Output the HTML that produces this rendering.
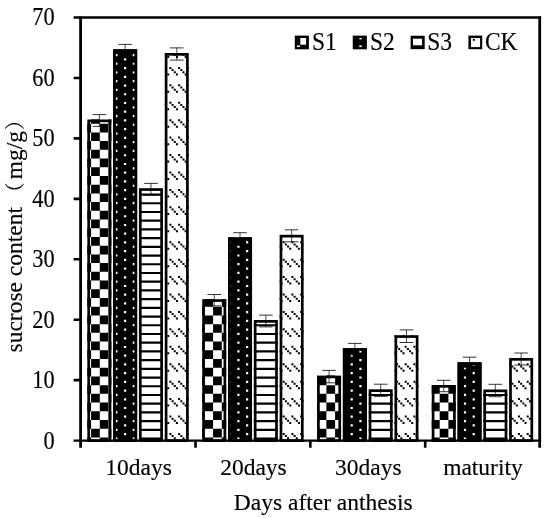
<!DOCTYPE html><html><head><meta charset="utf-8"><title>sucrose content</title><style>
html,body{margin:0;padding:0;background:#fff;}
body{width:550px;height:518px;overflow:hidden;}
svg{display:block;}
text{font-family:"Liberation Serif","Noto Serif CJK SC",serif;fill:#000;stroke:#000;stroke-width:0.15px;}
</style></head><body>
<svg width="550" height="518" viewBox="0 0 550 518">
<rect x="0" y="0" width="550" height="518" fill="#fff"/>
<rect x="87.35" y="119.50" width="24.00" height="321.10" fill="#fff"/>
<path d="M87.35 123.69H91.09V132.40H87.35ZM87.35 141.12H91.09V149.83H87.35ZM87.35 158.55H91.09V167.26H87.35ZM87.35 175.98H91.09V184.69H87.35ZM87.35 193.41H91.09V202.12H87.35ZM87.35 210.84H91.09V219.55H87.35ZM87.35 228.27H91.09V236.98H87.35ZM87.35 245.69H91.09V254.41H87.35ZM87.35 263.12H91.09V271.84H87.35ZM87.35 280.56H91.09V289.27H87.35ZM87.35 297.99H91.09V306.70H87.35ZM87.35 315.42H91.09V324.13H87.35ZM87.35 332.85H91.09V341.56H87.35ZM87.35 350.28H91.09V358.99H87.35ZM87.35 367.70H91.09V376.42H87.35ZM87.35 385.13H91.09V393.85H87.35ZM87.35 402.56H91.09V411.28H87.35ZM87.35 420.00H91.09V428.71H87.35ZM87.35 437.43H91.09V440.60H87.35ZM91.09 119.50H99.80V123.69H91.09ZM91.09 132.40H99.80V141.12H91.09ZM91.09 149.83H99.80V158.55H91.09ZM91.09 167.26H99.80V175.98H91.09ZM91.09 184.69H99.80V193.41H91.09ZM91.09 202.12H99.80V210.84H91.09ZM91.09 219.55H99.80V228.27H91.09ZM91.09 236.98H99.80V245.69H91.09ZM91.09 254.41H99.80V263.12H91.09ZM91.09 271.84H99.80V280.56H91.09ZM91.09 289.27H99.80V297.99H91.09ZM91.09 306.70H99.80V315.42H91.09ZM91.09 324.13H99.80V332.85H91.09ZM91.09 341.56H99.80V350.28H91.09ZM91.09 358.99H99.80V367.70H91.09ZM91.09 376.42H99.80V385.13H91.09ZM91.09 393.85H99.80V402.56H91.09ZM91.09 411.28H99.80V420.00H91.09ZM91.09 428.71H99.80V437.43H91.09ZM99.80 123.69H108.52V132.40H99.80ZM99.80 141.12H108.52V149.83H99.80ZM99.80 158.55H108.52V167.26H99.80ZM99.80 175.98H108.52V184.69H99.80ZM99.80 193.41H108.52V202.12H99.80ZM99.80 210.84H108.52V219.55H99.80ZM99.80 228.27H108.52V236.98H99.80ZM99.80 245.69H108.52V254.41H99.80ZM99.80 263.12H108.52V271.84H99.80ZM99.80 280.56H108.52V289.27H99.80ZM99.80 297.99H108.52V306.70H99.80ZM99.80 315.42H108.52V324.13H99.80ZM99.80 332.85H108.52V341.56H99.80ZM99.80 350.28H108.52V358.99H99.80ZM99.80 367.70H108.52V376.42H99.80ZM99.80 385.13H108.52V393.85H99.80ZM99.80 402.56H108.52V411.28H99.80ZM99.80 420.00H108.52V428.71H99.80ZM99.80 437.43H108.52V440.60H99.80ZM108.52 119.50H111.35V123.69H108.52ZM108.52 132.40H111.35V141.12H108.52ZM108.52 149.83H111.35V158.55H108.52ZM108.52 167.26H111.35V175.98H108.52ZM108.52 184.69H111.35V193.41H108.52ZM108.52 202.12H111.35V210.84H108.52ZM108.52 219.55H111.35V228.27H108.52ZM108.52 236.98H111.35V245.69H108.52ZM108.52 254.41H111.35V263.12H108.52ZM108.52 271.84H111.35V280.56H108.52ZM108.52 289.27H111.35V297.99H108.52ZM108.52 306.70H111.35V315.42H108.52ZM108.52 324.13H111.35V332.85H108.52ZM108.52 341.56H111.35V350.28H108.52ZM108.52 358.99H111.35V367.70H108.52ZM108.52 376.42H111.35V385.13H108.52ZM108.52 393.85H111.35V402.56H108.52ZM108.52 411.28H111.35V420.00H108.52ZM108.52 428.71H111.35V437.43H108.52Z" fill="#000"/>
<rect x="88.70" y="120.85" width="21.30" height="319.75" fill="none" stroke="#000" stroke-width="2.7"/>
<rect x="113.15" y="49.30" width="24.00" height="391.30" fill="#000"/>
<path d="M115.30 53.94H117.50V56.14H115.30ZM115.30 62.66H117.50V64.86H115.30ZM115.30 71.38H117.50V73.57H115.30ZM115.30 80.09H117.50V82.29H115.30ZM115.30 88.80H117.50V91.00H115.30ZM115.30 97.52H117.50V99.72H115.30ZM115.30 106.23H117.50V108.43H115.30ZM115.30 114.95H117.50V117.15H115.30ZM115.30 123.66H117.50V125.86H115.30ZM115.30 132.38H117.50V134.58H115.30ZM115.30 141.09H117.50V143.29H115.30ZM115.30 149.81H117.50V152.01H115.30ZM115.30 158.53H117.50V160.72H115.30ZM115.30 167.24H117.50V169.44H115.30ZM115.30 175.95H117.50V178.15H115.30ZM115.30 184.67H117.50V186.87H115.30ZM115.30 193.38H117.50V195.58H115.30ZM115.30 202.10H117.50V204.30H115.30ZM115.30 210.81H117.50V213.01H115.30ZM115.30 219.53H117.50V221.73H115.30ZM115.30 228.25H117.50V230.44H115.30ZM115.30 236.96H117.50V239.16H115.30ZM115.30 245.67H117.50V247.87H115.30ZM115.30 254.39H117.50V256.59H115.30ZM115.30 263.10H117.50V265.31H115.30ZM115.30 271.82H117.50V274.02H115.30ZM115.30 280.53H117.50V282.74H115.30ZM115.30 289.25H117.50V291.45H115.30ZM115.30 297.96H117.50V300.17H115.30ZM115.30 306.68H117.50V308.88H115.30ZM115.30 315.39H117.50V317.60H115.30ZM115.30 324.11H117.50V326.31H115.30ZM115.30 332.82H117.50V335.02H115.30ZM115.30 341.54H117.50V343.74H115.30ZM115.30 350.25H117.50V352.46H115.30ZM115.30 358.97H117.50V361.17H115.30ZM115.30 367.68H117.50V369.88H115.30ZM115.30 376.40H117.50V378.60H115.30ZM115.30 385.11H117.50V387.31H115.30ZM115.30 393.83H117.50V396.03H115.30ZM115.30 402.54H117.50V404.75H115.30ZM115.30 411.26H117.50V413.46H115.30ZM115.30 419.97H117.50V422.18H115.30ZM115.30 428.69H117.50V430.89H115.30ZM115.30 437.40H117.50V439.61H115.30ZM132.73 53.94H134.93V56.14H132.73ZM132.73 62.66H134.93V64.86H132.73ZM132.73 71.38H134.93V73.57H132.73ZM132.73 80.09H134.93V82.29H132.73ZM132.73 88.80H134.93V91.00H132.73ZM132.73 97.52H134.93V99.72H132.73ZM132.73 106.23H134.93V108.43H132.73ZM132.73 114.95H134.93V117.15H132.73ZM132.73 123.66H134.93V125.86H132.73ZM132.73 132.38H134.93V134.58H132.73ZM132.73 141.09H134.93V143.29H132.73ZM132.73 149.81H134.93V152.01H132.73ZM132.73 158.53H134.93V160.72H132.73ZM132.73 167.24H134.93V169.44H132.73ZM132.73 175.95H134.93V178.15H132.73ZM132.73 184.67H134.93V186.87H132.73ZM132.73 193.38H134.93V195.58H132.73ZM132.73 202.10H134.93V204.30H132.73ZM132.73 210.81H134.93V213.01H132.73ZM132.73 219.53H134.93V221.73H132.73ZM132.73 228.25H134.93V230.44H132.73ZM132.73 236.96H134.93V239.16H132.73ZM132.73 245.67H134.93V247.87H132.73ZM132.73 254.39H134.93V256.59H132.73ZM132.73 263.10H134.93V265.31H132.73ZM132.73 271.82H134.93V274.02H132.73ZM132.73 280.53H134.93V282.74H132.73ZM132.73 289.25H134.93V291.45H132.73ZM132.73 297.96H134.93V300.17H132.73ZM132.73 306.68H134.93V308.88H132.73ZM132.73 315.39H134.93V317.60H132.73ZM132.73 324.11H134.93V326.31H132.73ZM132.73 332.82H134.93V335.02H132.73ZM132.73 341.54H134.93V343.74H132.73ZM132.73 350.25H134.93V352.46H132.73ZM132.73 358.97H134.93V361.17H132.73ZM132.73 367.68H134.93V369.88H132.73ZM132.73 376.40H134.93V378.60H132.73ZM132.73 385.11H134.93V387.31H132.73ZM132.73 393.83H134.93V396.03H132.73ZM132.73 402.54H134.93V404.75H132.73ZM132.73 411.26H134.93V413.46H132.73ZM132.73 419.97H134.93V422.18H132.73ZM132.73 428.69H134.93V430.89H132.73ZM132.73 437.40H134.93V439.61H132.73ZM124.02 49.59H126.22V51.79H124.02ZM124.02 58.30H126.22V60.50H124.02ZM124.02 67.02H126.22V69.22H124.02ZM124.02 75.73H126.22V77.93H124.02ZM124.02 84.45H126.22V86.65H124.02ZM124.02 93.16H126.22V95.36H124.02ZM124.02 101.88H126.22V104.08H124.02ZM124.02 110.59H126.22V112.79H124.02ZM124.02 119.31H126.22V121.51H124.02ZM124.02 128.02H126.22V130.22H124.02ZM124.02 136.74H126.22V138.94H124.02ZM124.02 145.45H126.22V147.65H124.02ZM124.02 154.17H126.22V156.37H124.02ZM124.02 162.88H126.22V165.08H124.02ZM124.02 171.60H126.22V173.80H124.02ZM124.02 180.31H126.22V182.51H124.02ZM124.02 189.03H126.22V191.23H124.02ZM124.02 197.74H126.22V199.94H124.02ZM124.02 206.46H126.22V208.66H124.02ZM124.02 215.17H126.22V217.37H124.02ZM124.02 223.89H126.22V226.09H124.02ZM124.02 232.60H126.22V234.80H124.02ZM124.02 241.32H126.22V243.52H124.02ZM124.02 250.03H126.22V252.23H124.02ZM124.02 258.75H126.22V260.95H124.02ZM124.02 267.46H126.22V269.66H124.02ZM124.02 276.18H126.22V278.38H124.02ZM124.02 284.89H126.22V287.09H124.02ZM124.02 293.61H126.22V295.81H124.02ZM124.02 302.32H126.22V304.52H124.02ZM124.02 311.04H126.22V313.24H124.02ZM124.02 319.75H126.22V321.95H124.02ZM124.02 328.47H126.22V330.67H124.02ZM124.02 337.18H126.22V339.38H124.02ZM124.02 345.90H126.22V348.10H124.02ZM124.02 354.61H126.22V356.81H124.02ZM124.02 363.33H126.22V365.53H124.02ZM124.02 372.04H126.22V374.24H124.02ZM124.02 380.76H126.22V382.96H124.02ZM124.02 389.47H126.22V391.67H124.02ZM124.02 398.19H126.22V400.39H124.02ZM124.02 406.90H126.22V409.10H124.02ZM124.02 415.62H126.22V417.82H124.02ZM124.02 424.33H126.22V426.53H124.02ZM124.02 433.05H126.22V435.25H124.02Z" fill="#fff"/>
<rect x="114.50" y="50.65" width="21.30" height="389.95" fill="none" stroke="#000" stroke-width="2.7"/>
<rect x="138.95" y="188.20" width="24.00" height="252.40" fill="#fff"/>
<path d="M138.95 193.46H162.95V195.64H138.95ZM138.95 202.18H162.95V204.36H138.95ZM138.95 210.89H162.95V213.07H138.95ZM138.95 219.61H162.95V221.79H138.95ZM138.95 228.32H162.95V230.50H138.95ZM138.95 237.03H162.95V239.22H138.95ZM138.95 245.75H162.95V247.93H138.95ZM138.95 254.47H162.95V256.64H138.95ZM138.95 263.18H162.95V265.36H138.95ZM138.95 271.90H162.95V274.07H138.95ZM138.95 280.61H162.95V282.79H138.95ZM138.95 289.33H162.95V291.50H138.95ZM138.95 298.04H162.95V300.22H138.95ZM138.95 306.76H162.95V308.94H138.95ZM138.95 315.47H162.95V317.65H138.95ZM138.95 324.19H162.95V326.36H138.95ZM138.95 332.90H162.95V335.08H138.95ZM138.95 341.62H162.95V343.80H138.95ZM138.95 350.33H162.95V352.51H138.95ZM138.95 359.05H162.95V361.22H138.95ZM138.95 367.76H162.95V369.94H138.95ZM138.95 376.48H162.95V378.65H138.95ZM138.95 385.19H162.95V387.37H138.95ZM138.95 393.91H162.95V396.08H138.95ZM138.95 402.62H162.95V404.80H138.95ZM138.95 411.34H162.95V413.51H138.95ZM138.95 420.05H162.95V422.23H138.95ZM138.95 428.77H162.95V430.94H138.95ZM138.95 437.48H162.95V439.66H138.95Z" fill="#000"/>
<rect x="140.30" y="189.55" width="21.30" height="251.05" fill="none" stroke="#000" stroke-width="2.7"/>
<rect x="164.75" y="53.00" width="24.00" height="387.60" fill="#fff"/>
<path d="M164.75 53.00H164.87V53.65H164.75ZM165.05 53.83H167.05V55.83H165.05ZM167.22 56.01H169.22V58.01H167.22ZM164.75 69.08H164.87V71.08H164.75ZM165.05 71.26H167.05V73.26H165.05ZM167.22 73.44H169.22V75.44H167.22ZM164.75 86.51H164.87V88.51H164.75ZM165.05 88.69H167.05V90.69H165.05ZM167.22 90.87H169.22V92.87H167.22ZM164.75 103.94H164.87V105.94H164.75ZM165.05 106.12H167.05V108.12H165.05ZM167.22 108.30H169.22V110.30H167.22ZM164.75 121.37H164.87V123.37H164.75ZM165.05 123.55H167.05V125.55H165.05ZM167.22 125.73H169.22V127.73H167.22ZM164.75 138.80H164.87V140.80H164.75ZM165.05 140.98H167.05V142.98H165.05ZM167.22 143.16H169.22V145.16H167.22ZM164.75 156.23H164.87V158.23H164.75ZM165.05 158.41H167.05V160.41H165.05ZM167.22 160.59H169.22V162.59H167.22ZM164.75 173.66H164.87V175.66H164.75ZM165.05 175.84H167.05V177.84H165.05ZM167.22 178.02H169.22V180.02H167.22ZM164.75 191.09H164.87V193.09H164.75ZM165.05 193.27H167.05V195.27H165.05ZM167.22 195.45H169.22V197.45H167.22ZM164.75 208.52H164.87V210.52H164.75ZM165.05 210.70H167.05V212.70H165.05ZM167.22 212.88H169.22V214.88H167.22ZM164.75 225.95H164.87V227.95H164.75ZM165.05 228.13H167.05V230.13H165.05ZM167.22 230.31H169.22V232.31H167.22ZM164.75 243.38H164.87V245.38H164.75ZM165.05 245.56H167.05V247.56H165.05ZM167.22 247.74H169.22V249.74H167.22ZM164.75 260.81H164.87V262.81H164.75ZM165.05 262.99H167.05V264.99H165.05ZM167.22 265.17H169.22V267.17H167.22ZM164.75 278.24H164.87V280.24H164.75ZM165.05 280.42H167.05V282.42H165.05ZM167.22 282.60H169.22V284.60H167.22ZM164.75 295.67H164.87V297.67H164.75ZM165.05 297.85H167.05V299.85H165.05ZM167.22 300.03H169.22V302.03H167.22ZM164.75 313.10H164.87V315.10H164.75ZM165.05 315.28H167.05V317.28H165.05ZM167.22 317.46H169.22V319.46H167.22ZM164.75 330.53H164.87V332.53H164.75ZM165.05 332.71H167.05V334.71H165.05ZM167.22 334.89H169.22V336.89H167.22ZM164.75 347.96H164.87V349.96H164.75ZM165.05 350.14H167.05V352.14H165.05ZM167.22 352.32H169.22V354.32H167.22ZM164.75 365.39H164.87V367.39H164.75ZM165.05 367.57H167.05V369.57H165.05ZM167.22 369.75H169.22V371.75H167.22ZM164.75 382.82H164.87V384.82H164.75ZM165.05 385.00H167.05V387.00H165.05ZM167.22 387.18H169.22V389.18H167.22ZM164.75 400.25H164.87V402.25H164.75ZM165.05 402.43H167.05V404.43H165.05ZM167.22 404.61H169.22V406.61H167.22ZM164.75 417.68H164.87V419.68H164.75ZM165.05 419.86H167.05V421.86H165.05ZM167.22 422.04H169.22V424.04H167.22ZM164.75 435.11H164.87V437.11H164.75ZM165.05 437.29H167.05V439.29H165.05ZM167.22 439.47H169.22V440.60H167.22ZM171.58 53.00H173.58V53.65H171.58ZM173.76 53.83H175.76V55.83H173.76ZM175.94 56.01H177.94V58.01H175.94ZM169.40 66.90H171.40V68.90H169.40ZM171.58 69.08H173.58V71.08H171.58ZM173.76 71.26H175.76V73.26H173.76ZM175.94 73.44H177.94V75.44H175.94ZM169.40 84.33H171.40V86.33H169.40ZM171.58 86.51H173.58V88.51H171.58ZM173.76 88.69H175.76V90.69H173.76ZM175.94 90.87H177.94V92.87H175.94ZM169.40 101.76H171.40V103.76H169.40ZM171.58 103.94H173.58V105.94H171.58ZM173.76 106.12H175.76V108.12H173.76ZM175.94 108.30H177.94V110.30H175.94ZM169.40 119.19H171.40V121.19H169.40ZM171.58 121.37H173.58V123.37H171.58ZM173.76 123.55H175.76V125.55H173.76ZM175.94 125.73H177.94V127.73H175.94ZM169.40 136.62H171.40V138.62H169.40ZM171.58 138.80H173.58V140.80H171.58ZM173.76 140.98H175.76V142.98H173.76ZM175.94 143.16H177.94V145.16H175.94ZM169.40 154.05H171.40V156.05H169.40ZM171.58 156.23H173.58V158.23H171.58ZM173.76 158.41H175.76V160.41H173.76ZM175.94 160.59H177.94V162.59H175.94ZM169.40 171.48H171.40V173.48H169.40ZM171.58 173.66H173.58V175.66H171.58ZM173.76 175.84H175.76V177.84H173.76ZM175.94 178.02H177.94V180.02H175.94ZM169.40 188.91H171.40V190.91H169.40ZM171.58 191.09H173.58V193.09H171.58ZM173.76 193.27H175.76V195.27H173.76ZM175.94 195.45H177.94V197.45H175.94ZM169.40 206.34H171.40V208.34H169.40ZM171.58 208.52H173.58V210.52H171.58ZM173.76 210.70H175.76V212.70H173.76ZM175.94 212.88H177.94V214.88H175.94ZM169.40 223.77H171.40V225.77H169.40ZM171.58 225.95H173.58V227.95H171.58ZM173.76 228.13H175.76V230.13H173.76ZM175.94 230.31H177.94V232.31H175.94ZM169.40 241.20H171.40V243.20H169.40ZM171.58 243.38H173.58V245.38H171.58ZM173.76 245.56H175.76V247.56H173.76ZM175.94 247.74H177.94V249.74H175.94ZM169.40 258.63H171.40V260.63H169.40ZM171.58 260.81H173.58V262.81H171.58ZM173.76 262.99H175.76V264.99H173.76ZM175.94 265.17H177.94V267.17H175.94ZM169.40 276.06H171.40V278.06H169.40ZM171.58 278.24H173.58V280.24H171.58ZM173.76 280.42H175.76V282.42H173.76ZM175.94 282.60H177.94V284.60H175.94ZM169.40 293.49H171.40V295.49H169.40ZM171.58 295.67H173.58V297.67H171.58ZM173.76 297.85H175.76V299.85H173.76ZM175.94 300.03H177.94V302.03H175.94ZM169.40 310.92H171.40V312.92H169.40ZM171.58 313.10H173.58V315.10H171.58ZM173.76 315.28H175.76V317.28H173.76ZM175.94 317.46H177.94V319.46H175.94ZM169.40 328.35H171.40V330.35H169.40ZM171.58 330.53H173.58V332.53H171.58ZM173.76 332.71H175.76V334.71H173.76ZM175.94 334.89H177.94V336.89H175.94ZM169.40 345.78H171.40V347.78H169.40ZM171.58 347.96H173.58V349.96H171.58ZM173.76 350.14H175.76V352.14H173.76ZM175.94 352.32H177.94V354.32H175.94ZM169.40 363.21H171.40V365.21H169.40ZM171.58 365.39H173.58V367.39H171.58ZM173.76 367.57H175.76V369.57H173.76ZM175.94 369.75H177.94V371.75H175.94ZM169.40 380.64H171.40V382.64H169.40ZM171.58 382.82H173.58V384.82H171.58ZM173.76 385.00H175.76V387.00H173.76ZM175.94 387.18H177.94V389.18H175.94ZM169.40 398.07H171.40V400.07H169.40ZM171.58 400.25H173.58V402.25H171.58ZM173.76 402.43H175.76V404.43H173.76ZM175.94 404.61H177.94V406.61H175.94ZM169.40 415.50H171.40V417.50H169.40ZM171.58 417.68H173.58V419.68H171.58ZM173.76 419.86H175.76V421.86H173.76ZM175.94 422.04H177.94V424.04H175.94ZM169.40 432.93H171.40V434.93H169.40ZM171.58 435.11H173.58V437.11H171.58ZM173.76 437.29H175.76V439.29H173.76ZM175.94 439.47H177.94V440.60H175.94ZM180.30 53.00H182.30V53.65H180.30ZM182.48 53.83H184.48V55.83H182.48ZM184.66 56.01H186.66V58.01H184.66ZM178.12 66.90H180.12V68.90H178.12ZM180.30 69.08H182.30V71.08H180.30ZM182.48 71.26H184.48V73.26H182.48ZM184.66 73.44H186.66V75.44H184.66ZM178.12 84.33H180.12V86.33H178.12ZM180.30 86.51H182.30V88.51H180.30ZM182.48 88.69H184.48V90.69H182.48ZM184.66 90.87H186.66V92.87H184.66ZM178.12 101.76H180.12V103.76H178.12ZM180.30 103.94H182.30V105.94H180.30ZM182.48 106.12H184.48V108.12H182.48ZM184.66 108.30H186.66V110.30H184.66ZM178.12 119.19H180.12V121.19H178.12ZM180.30 121.37H182.30V123.37H180.30ZM182.48 123.55H184.48V125.55H182.48ZM184.66 125.73H186.66V127.73H184.66ZM178.12 136.62H180.12V138.62H178.12ZM180.30 138.80H182.30V140.80H180.30ZM182.48 140.98H184.48V142.98H182.48ZM184.66 143.16H186.66V145.16H184.66ZM178.12 154.05H180.12V156.05H178.12ZM180.30 156.23H182.30V158.23H180.30ZM182.48 158.41H184.48V160.41H182.48ZM184.66 160.59H186.66V162.59H184.66ZM178.12 171.48H180.12V173.48H178.12ZM180.30 173.66H182.30V175.66H180.30ZM182.48 175.84H184.48V177.84H182.48ZM184.66 178.02H186.66V180.02H184.66ZM178.12 188.91H180.12V190.91H178.12ZM180.30 191.09H182.30V193.09H180.30ZM182.48 193.27H184.48V195.27H182.48ZM184.66 195.45H186.66V197.45H184.66ZM178.12 206.34H180.12V208.34H178.12ZM180.30 208.52H182.30V210.52H180.30ZM182.48 210.70H184.48V212.70H182.48ZM184.66 212.88H186.66V214.88H184.66ZM178.12 223.77H180.12V225.77H178.12ZM180.30 225.95H182.30V227.95H180.30ZM182.48 228.13H184.48V230.13H182.48ZM184.66 230.31H186.66V232.31H184.66ZM178.12 241.20H180.12V243.20H178.12ZM180.30 243.38H182.30V245.38H180.30ZM182.48 245.56H184.48V247.56H182.48ZM184.66 247.74H186.66V249.74H184.66ZM178.12 258.63H180.12V260.63H178.12ZM180.30 260.81H182.30V262.81H180.30ZM182.48 262.99H184.48V264.99H182.48ZM184.66 265.17H186.66V267.17H184.66ZM178.12 276.06H180.12V278.06H178.12ZM180.30 278.24H182.30V280.24H180.30ZM182.48 280.42H184.48V282.42H182.48ZM184.66 282.60H186.66V284.60H184.66ZM178.12 293.49H180.12V295.49H178.12ZM180.30 295.67H182.30V297.67H180.30ZM182.48 297.85H184.48V299.85H182.48ZM184.66 300.03H186.66V302.03H184.66ZM178.12 310.92H180.12V312.92H178.12ZM180.30 313.10H182.30V315.10H180.30ZM182.48 315.28H184.48V317.28H182.48ZM184.66 317.46H186.66V319.46H184.66ZM178.12 328.35H180.12V330.35H178.12ZM180.30 330.53H182.30V332.53H180.30ZM182.48 332.71H184.48V334.71H182.48ZM184.66 334.89H186.66V336.89H184.66ZM178.12 345.78H180.12V347.78H178.12ZM180.30 347.96H182.30V349.96H180.30ZM182.48 350.14H184.48V352.14H182.48ZM184.66 352.32H186.66V354.32H184.66ZM178.12 363.21H180.12V365.21H178.12ZM180.30 365.39H182.30V367.39H180.30ZM182.48 367.57H184.48V369.57H182.48ZM184.66 369.75H186.66V371.75H184.66ZM178.12 380.64H180.12V382.64H178.12ZM180.30 382.82H182.30V384.82H180.30ZM182.48 385.00H184.48V387.00H182.48ZM184.66 387.18H186.66V389.18H184.66ZM178.12 398.07H180.12V400.07H178.12ZM180.30 400.25H182.30V402.25H180.30ZM182.48 402.43H184.48V404.43H182.48ZM184.66 404.61H186.66V406.61H184.66ZM178.12 415.50H180.12V417.50H178.12ZM180.30 417.68H182.30V419.68H180.30ZM182.48 419.86H184.48V421.86H182.48ZM184.66 422.04H186.66V424.04H184.66ZM178.12 432.93H180.12V434.93H178.12ZM180.30 435.11H182.30V437.11H180.30ZM182.48 437.29H184.48V439.29H182.48ZM184.66 439.47H186.66V440.60H184.66ZM186.83 66.90H188.75V68.90H186.83ZM186.83 84.33H188.75V86.33H186.83ZM186.83 101.76H188.75V103.76H186.83ZM186.83 119.19H188.75V121.19H186.83ZM186.83 136.62H188.75V138.62H186.83ZM186.83 154.05H188.75V156.05H186.83ZM186.83 171.48H188.75V173.48H186.83ZM186.83 188.91H188.75V190.91H186.83ZM186.83 206.34H188.75V208.34H186.83ZM186.83 223.77H188.75V225.77H186.83ZM186.83 241.20H188.75V243.20H186.83ZM186.83 258.63H188.75V260.63H186.83ZM186.83 276.06H188.75V278.06H186.83ZM186.83 293.49H188.75V295.49H186.83ZM186.83 310.92H188.75V312.92H186.83ZM186.83 328.35H188.75V330.35H186.83ZM186.83 345.78H188.75V347.78H186.83ZM186.83 363.21H188.75V365.21H186.83ZM186.83 380.64H188.75V382.64H186.83ZM186.83 398.07H188.75V400.07H186.83ZM186.83 415.50H188.75V417.50H186.83ZM186.83 432.93H188.75V434.93H186.83Z" fill="#000"/>
<rect x="166.10" y="54.35" width="21.30" height="386.25" fill="none" stroke="#000" stroke-width="2.7"/>
<rect x="202.23" y="299.20" width="24.00" height="141.40" fill="#fff"/>
<path d="M202.23 306.70H204.38V315.42H202.23ZM202.23 324.13H204.38V332.85H202.23ZM202.23 341.56H204.38V350.28H202.23ZM202.23 358.99H204.38V367.70H202.23ZM202.23 376.42H204.38V385.13H202.23ZM202.23 393.85H204.38V402.56H202.23ZM202.23 411.28H204.38V420.00H202.23ZM202.23 428.71H204.38V437.43H202.23ZM204.38 299.20H213.09V306.70H204.38ZM204.38 315.42H213.09V324.13H204.38ZM204.38 332.85H213.09V341.56H204.38ZM204.38 350.28H213.09V358.99H204.38ZM204.38 367.70H213.09V376.42H204.38ZM204.38 385.13H213.09V393.85H204.38ZM204.38 402.56H213.09V411.28H204.38ZM204.38 420.00H213.09V428.71H204.38ZM204.38 437.43H213.09V440.60H204.38ZM213.09 306.70H221.81V315.42H213.09ZM213.09 324.13H221.81V332.85H213.09ZM213.09 341.56H221.81V350.28H213.09ZM213.09 358.99H221.81V367.70H213.09ZM213.09 376.42H221.81V385.13H213.09ZM213.09 393.85H221.81V402.56H213.09ZM213.09 411.28H221.81V420.00H213.09ZM213.09 428.71H221.81V437.43H213.09ZM221.81 299.20H226.23V306.70H221.81ZM221.81 315.42H226.23V324.13H221.81ZM221.81 332.85H226.23V341.56H221.81ZM221.81 350.28H226.23V358.99H221.81ZM221.81 367.70H226.23V376.42H221.81ZM221.81 385.13H226.23V393.85H221.81ZM221.81 402.56H226.23V411.28H221.81ZM221.81 420.00H226.23V428.71H221.81ZM221.81 437.43H226.23V440.60H221.81Z" fill="#000"/>
<rect x="203.58" y="300.55" width="21.30" height="140.05" fill="none" stroke="#000" stroke-width="2.7"/>
<rect x="228.03" y="237.30" width="24.00" height="203.30" fill="#000"/>
<path d="M237.31 237.30H239.51V239.16H237.31ZM237.31 245.67H239.51V247.87H237.31ZM237.31 254.39H239.51V256.59H237.31ZM237.31 263.10H239.51V265.31H237.31ZM237.31 271.82H239.51V274.02H237.31ZM237.31 280.53H239.51V282.74H237.31ZM237.31 289.25H239.51V291.45H237.31ZM237.31 297.96H239.51V300.17H237.31ZM237.31 306.68H239.51V308.88H237.31ZM237.31 315.39H239.51V317.60H237.31ZM237.31 324.11H239.51V326.31H237.31ZM237.31 332.82H239.51V335.02H237.31ZM237.31 341.54H239.51V343.74H237.31ZM237.31 350.25H239.51V352.46H237.31ZM237.31 358.97H239.51V361.17H237.31ZM237.31 367.68H239.51V369.88H237.31ZM237.31 376.40H239.51V378.60H237.31ZM237.31 385.11H239.51V387.31H237.31ZM237.31 393.83H239.51V396.03H237.31ZM237.31 402.54H239.51V404.75H237.31ZM237.31 411.26H239.51V413.46H237.31ZM237.31 419.97H239.51V422.18H237.31ZM237.31 428.69H239.51V430.89H237.31ZM237.31 437.40H239.51V439.61H237.31ZM228.59 241.32H230.79V243.52H228.59ZM228.59 250.03H230.79V252.23H228.59ZM228.59 258.75H230.79V260.95H228.59ZM228.59 267.46H230.79V269.66H228.59ZM228.59 276.18H230.79V278.38H228.59ZM228.59 284.89H230.79V287.09H228.59ZM228.59 293.61H230.79V295.81H228.59ZM228.59 302.32H230.79V304.52H228.59ZM228.59 311.04H230.79V313.24H228.59ZM228.59 319.75H230.79V321.95H228.59ZM228.59 328.47H230.79V330.67H228.59ZM228.59 337.18H230.79V339.38H228.59ZM228.59 345.90H230.79V348.10H228.59ZM228.59 354.61H230.79V356.81H228.59ZM228.59 363.33H230.79V365.53H228.59ZM228.59 372.04H230.79V374.24H228.59ZM228.59 380.76H230.79V382.96H228.59ZM228.59 389.47H230.79V391.67H228.59ZM228.59 398.19H230.79V400.39H228.59ZM228.59 406.90H230.79V409.10H228.59ZM228.59 415.62H230.79V417.82H228.59ZM228.59 424.33H230.79V426.53H228.59ZM228.59 433.05H230.79V435.25H228.59ZM246.03 241.32H248.22V243.52H246.03ZM246.03 250.03H248.22V252.23H246.03ZM246.03 258.75H248.22V260.95H246.03ZM246.03 267.46H248.22V269.66H246.03ZM246.03 276.18H248.22V278.38H246.03ZM246.03 284.89H248.22V287.09H246.03ZM246.03 293.61H248.22V295.81H246.03ZM246.03 302.32H248.22V304.52H246.03ZM246.03 311.04H248.22V313.24H246.03ZM246.03 319.75H248.22V321.95H246.03ZM246.03 328.47H248.22V330.67H246.03ZM246.03 337.18H248.22V339.38H246.03ZM246.03 345.90H248.22V348.10H246.03ZM246.03 354.61H248.22V356.81H246.03ZM246.03 363.33H248.22V365.53H246.03ZM246.03 372.04H248.22V374.24H246.03ZM246.03 380.76H248.22V382.96H246.03ZM246.03 389.47H248.22V391.67H246.03ZM246.03 398.19H248.22V400.39H246.03ZM246.03 406.90H248.22V409.10H246.03ZM246.03 415.62H248.22V417.82H246.03ZM246.03 424.33H248.22V426.53H246.03ZM246.03 433.05H248.22V435.25H246.03Z" fill="#fff"/>
<rect x="229.38" y="238.65" width="21.30" height="201.95" fill="none" stroke="#000" stroke-width="2.7"/>
<rect x="253.83" y="320.00" width="24.00" height="120.60" fill="#fff"/>
<path d="M253.83 324.19H277.82V326.36H253.83ZM253.83 332.90H277.82V335.08H253.83ZM253.83 341.62H277.82V343.80H253.83ZM253.83 350.33H277.82V352.51H253.83ZM253.83 359.05H277.82V361.22H253.83ZM253.83 367.76H277.82V369.94H253.83ZM253.83 376.48H277.82V378.65H253.83ZM253.83 385.19H277.82V387.37H253.83ZM253.83 393.91H277.82V396.08H253.83ZM253.83 402.62H277.82V404.80H253.83ZM253.83 411.34H277.82V413.51H253.83ZM253.83 420.05H277.82V422.23H253.83ZM253.83 428.77H277.82V430.94H253.83ZM253.83 437.48H277.82V439.66H253.83Z" fill="#000"/>
<rect x="255.18" y="321.35" width="21.30" height="119.25" fill="none" stroke="#000" stroke-width="2.7"/>
<rect x="279.62" y="234.80" width="24.00" height="205.80" fill="#fff"/>
<path d="M279.62 245.56H280.34V247.56H279.62ZM280.52 247.74H282.52V249.74H280.52ZM279.62 262.99H280.34V264.99H279.62ZM280.52 265.17H282.52V267.17H280.52ZM279.62 280.42H280.34V282.42H279.62ZM280.52 282.60H282.52V284.60H280.52ZM279.62 297.85H280.34V299.85H279.62ZM280.52 300.03H282.52V302.03H280.52ZM279.62 315.28H280.34V317.28H279.62ZM280.52 317.46H282.52V319.46H280.52ZM279.62 332.71H280.34V334.71H279.62ZM280.52 334.89H282.52V336.89H280.52ZM279.62 350.14H280.34V352.14H279.62ZM280.52 352.32H282.52V354.32H280.52ZM279.62 367.57H280.34V369.57H279.62ZM280.52 369.75H282.52V371.75H280.52ZM279.62 385.00H280.34V387.00H279.62ZM280.52 387.18H282.52V389.18H280.52ZM279.62 402.43H280.34V404.43H279.62ZM280.52 404.61H282.52V406.61H280.52ZM279.62 419.86H280.34V421.86H279.62ZM280.52 422.04H282.52V424.04H280.52ZM279.62 437.29H280.34V439.29H279.62ZM280.52 439.47H282.52V440.60H280.52ZM282.69 241.20H284.69V243.20H282.69ZM284.88 243.38H286.88V245.38H284.88ZM287.06 245.56H289.06V247.56H287.06ZM289.24 247.74H291.24V249.74H289.24ZM282.69 258.63H284.69V260.63H282.69ZM284.88 260.81H286.88V262.81H284.88ZM287.06 262.99H289.06V264.99H287.06ZM289.24 265.17H291.24V267.17H289.24ZM282.69 276.06H284.69V278.06H282.69ZM284.88 278.24H286.88V280.24H284.88ZM287.06 280.42H289.06V282.42H287.06ZM289.24 282.60H291.24V284.60H289.24ZM282.69 293.49H284.69V295.49H282.69ZM284.88 295.67H286.88V297.67H284.88ZM287.06 297.85H289.06V299.85H287.06ZM289.24 300.03H291.24V302.03H289.24ZM282.69 310.92H284.69V312.92H282.69ZM284.88 313.10H286.88V315.10H284.88ZM287.06 315.28H289.06V317.28H287.06ZM289.24 317.46H291.24V319.46H289.24ZM282.69 328.35H284.69V330.35H282.69ZM284.88 330.53H286.88V332.53H284.88ZM287.06 332.71H289.06V334.71H287.06ZM289.24 334.89H291.24V336.89H289.24ZM282.69 345.78H284.69V347.78H282.69ZM284.88 347.96H286.88V349.96H284.88ZM287.06 350.14H289.06V352.14H287.06ZM289.24 352.32H291.24V354.32H289.24ZM282.69 363.21H284.69V365.21H282.69ZM284.88 365.39H286.88V367.39H284.88ZM287.06 367.57H289.06V369.57H287.06ZM289.24 369.75H291.24V371.75H289.24ZM282.69 380.64H284.69V382.64H282.69ZM284.88 382.82H286.88V384.82H284.88ZM287.06 385.00H289.06V387.00H287.06ZM289.24 387.18H291.24V389.18H289.24ZM282.69 398.07H284.69V400.07H282.69ZM284.88 400.25H286.88V402.25H284.88ZM287.06 402.43H289.06V404.43H287.06ZM289.24 404.61H291.24V406.61H289.24ZM282.69 415.50H284.69V417.50H282.69ZM284.88 417.68H286.88V419.68H284.88ZM287.06 419.86H289.06V421.86H287.06ZM289.24 422.04H291.24V424.04H289.24ZM282.69 432.93H284.69V434.93H282.69ZM284.88 435.11H286.88V437.11H284.88ZM287.06 437.29H289.06V439.29H287.06ZM289.24 439.47H291.24V440.60H289.24ZM291.41 241.20H293.41V243.20H291.41ZM293.59 243.38H295.59V245.38H293.59ZM295.77 245.56H297.77V247.56H295.77ZM297.95 247.74H299.95V249.74H297.95ZM291.41 258.63H293.41V260.63H291.41ZM293.59 260.81H295.59V262.81H293.59ZM295.77 262.99H297.77V264.99H295.77ZM297.95 265.17H299.95V267.17H297.95ZM291.41 276.06H293.41V278.06H291.41ZM293.59 278.24H295.59V280.24H293.59ZM295.77 280.42H297.77V282.42H295.77ZM297.95 282.60H299.95V284.60H297.95ZM291.41 293.49H293.41V295.49H291.41ZM293.59 295.67H295.59V297.67H293.59ZM295.77 297.85H297.77V299.85H295.77ZM297.95 300.03H299.95V302.03H297.95ZM291.41 310.92H293.41V312.92H291.41ZM293.59 313.10H295.59V315.10H293.59ZM295.77 315.28H297.77V317.28H295.77ZM297.95 317.46H299.95V319.46H297.95ZM291.41 328.35H293.41V330.35H291.41ZM293.59 330.53H295.59V332.53H293.59ZM295.77 332.71H297.77V334.71H295.77ZM297.95 334.89H299.95V336.89H297.95ZM291.41 345.78H293.41V347.78H291.41ZM293.59 347.96H295.59V349.96H293.59ZM295.77 350.14H297.77V352.14H295.77ZM297.95 352.32H299.95V354.32H297.95ZM291.41 363.21H293.41V365.21H291.41ZM293.59 365.39H295.59V367.39H293.59ZM295.77 367.57H297.77V369.57H295.77ZM297.95 369.75H299.95V371.75H297.95ZM291.41 380.64H293.41V382.64H291.41ZM293.59 382.82H295.59V384.82H293.59ZM295.77 385.00H297.77V387.00H295.77ZM297.95 387.18H299.95V389.18H297.95ZM291.41 398.07H293.41V400.07H291.41ZM293.59 400.25H295.59V402.25H293.59ZM295.77 402.43H297.77V404.43H295.77ZM297.95 404.61H299.95V406.61H297.95ZM291.41 415.50H293.41V417.50H291.41ZM293.59 417.68H295.59V419.68H293.59ZM295.77 419.86H297.77V421.86H295.77ZM297.95 422.04H299.95V424.04H297.95ZM291.41 432.93H293.41V434.93H291.41ZM293.59 435.11H295.59V437.11H293.59ZM295.77 437.29H297.77V439.29H295.77ZM297.95 439.47H299.95V440.60H297.95ZM300.12 241.20H302.12V243.20H300.12ZM302.31 243.38H303.62V245.38H302.31ZM300.12 258.63H302.12V260.63H300.12ZM302.31 260.81H303.62V262.81H302.31ZM300.12 276.06H302.12V278.06H300.12ZM302.31 278.24H303.62V280.24H302.31ZM300.12 293.49H302.12V295.49H300.12ZM302.31 295.67H303.62V297.67H302.31ZM300.12 310.92H302.12V312.92H300.12ZM302.31 313.10H303.62V315.10H302.31ZM300.12 328.35H302.12V330.35H300.12ZM302.31 330.53H303.62V332.53H302.31ZM300.12 345.78H302.12V347.78H300.12ZM302.31 347.96H303.62V349.96H302.31ZM300.12 363.21H302.12V365.21H300.12ZM302.31 365.39H303.62V367.39H302.31ZM300.12 380.64H302.12V382.64H300.12ZM302.31 382.82H303.62V384.82H302.31ZM300.12 398.07H302.12V400.07H300.12ZM302.31 400.25H303.62V402.25H302.31ZM300.12 415.50H302.12V417.50H300.12ZM302.31 417.68H303.62V419.68H302.31ZM300.12 432.93H302.12V434.93H300.12ZM302.31 435.11H303.62V437.11H302.31Z" fill="#000"/>
<rect x="280.98" y="236.15" width="21.30" height="204.45" fill="none" stroke="#000" stroke-width="2.7"/>
<rect x="317.07" y="375.60" width="24.00" height="65.00" fill="#fff"/>
<path d="M317.07 375.60H317.68V376.42H317.07ZM317.07 385.13H317.68V393.85H317.07ZM317.07 402.56H317.68V411.28H317.07ZM317.07 420.00H317.68V428.71H317.07ZM317.07 437.43H317.68V440.60H317.07ZM317.68 376.42H326.39V385.13H317.68ZM317.68 393.85H326.39V402.56H317.68ZM317.68 411.28H326.39V420.00H317.68ZM317.68 428.71H326.39V437.43H317.68ZM326.39 375.60H335.11V376.42H326.39ZM326.39 385.13H335.11V393.85H326.39ZM326.39 402.56H335.11V411.28H326.39ZM326.39 420.00H335.11V428.71H326.39ZM326.39 437.43H335.11V440.60H326.39ZM335.11 376.42H341.07V385.13H335.11ZM335.11 393.85H341.07V402.56H335.11ZM335.11 411.28H341.07V420.00H335.11ZM335.11 428.71H341.07V437.43H335.11Z" fill="#000"/>
<rect x="318.42" y="376.95" width="21.30" height="63.65" fill="none" stroke="#000" stroke-width="2.7"/>
<rect x="342.87" y="348.20" width="24.00" height="92.40" fill="#000"/>
<path d="M342.87 350.25H344.09V352.46H342.87ZM342.87 358.97H344.09V361.17H342.87ZM342.87 367.68H344.09V369.88H342.87ZM342.87 376.40H344.09V378.60H342.87ZM342.87 385.11H344.09V387.31H342.87ZM342.87 393.83H344.09V396.03H342.87ZM342.87 402.54H344.09V404.75H342.87ZM342.87 411.26H344.09V413.46H342.87ZM342.87 419.97H344.09V422.18H342.87ZM342.87 428.69H344.09V430.89H342.87ZM342.87 437.40H344.09V439.61H342.87ZM359.32 350.25H361.52V352.46H359.32ZM359.32 358.97H361.52V361.17H359.32ZM359.32 367.68H361.52V369.88H359.32ZM359.32 376.40H361.52V378.60H359.32ZM359.32 385.11H361.52V387.31H359.32ZM359.32 393.83H361.52V396.03H359.32ZM359.32 402.54H361.52V404.75H359.32ZM359.32 411.26H361.52V413.46H359.32ZM359.32 419.97H361.52V422.18H359.32ZM359.32 428.69H361.52V430.89H359.32ZM359.32 437.40H361.52V439.61H359.32ZM350.61 354.61H352.81V356.81H350.61ZM350.61 363.33H352.81V365.53H350.61ZM350.61 372.04H352.81V374.24H350.61ZM350.61 380.76H352.81V382.96H350.61ZM350.61 389.47H352.81V391.67H350.61ZM350.61 398.19H352.81V400.39H350.61ZM350.61 406.90H352.81V409.10H350.61ZM350.61 415.62H352.81V417.82H350.61ZM350.61 424.33H352.81V426.53H350.61ZM350.61 433.05H352.81V435.25H350.61Z" fill="#fff"/>
<rect x="344.22" y="349.55" width="21.30" height="91.05" fill="none" stroke="#000" stroke-width="2.7"/>
<rect x="368.67" y="389.30" width="24.00" height="51.30" fill="#fff"/>
<path d="M368.67 393.91H392.67V396.08H368.67ZM368.67 402.62H392.67V404.80H368.67ZM368.67 411.34H392.67V413.51H368.67ZM368.67 420.05H392.67V422.23H368.67ZM368.67 428.77H392.67V430.94H368.67ZM368.67 437.48H392.67V439.66H368.67Z" fill="#000"/>
<rect x="370.02" y="390.65" width="21.30" height="49.95" fill="none" stroke="#000" stroke-width="2.7"/>
<rect x="394.47" y="335.20" width="24.00" height="105.40" fill="#fff"/>
<path d="M394.47 335.20H395.81V336.89H394.47ZM394.47 352.32H395.81V354.32H394.47ZM394.47 369.75H395.81V371.75H394.47ZM394.47 387.18H395.81V389.18H394.47ZM394.47 404.61H395.81V406.61H394.47ZM394.47 422.04H395.81V424.04H394.47ZM394.47 439.47H395.81V440.60H394.47ZM402.53 335.20H404.53V336.89H402.53ZM395.99 345.78H397.99V347.78H395.99ZM398.17 347.96H400.17V349.96H398.17ZM400.35 350.14H402.35V352.14H400.35ZM402.53 352.32H404.53V354.32H402.53ZM395.99 363.21H397.99V365.21H395.99ZM398.17 365.39H400.17V367.39H398.17ZM400.35 367.57H402.35V369.57H400.35ZM402.53 369.75H404.53V371.75H402.53ZM395.99 380.64H397.99V382.64H395.99ZM398.17 382.82H400.17V384.82H398.17ZM400.35 385.00H402.35V387.00H400.35ZM402.53 387.18H404.53V389.18H402.53ZM395.99 398.07H397.99V400.07H395.99ZM398.17 400.25H400.17V402.25H398.17ZM400.35 402.43H402.35V404.43H400.35ZM402.53 404.61H404.53V406.61H402.53ZM395.99 415.50H397.99V417.50H395.99ZM398.17 417.68H400.17V419.68H398.17ZM400.35 419.86H402.35V421.86H400.35ZM402.53 422.04H404.53V424.04H402.53ZM395.99 432.93H397.99V434.93H395.99ZM398.17 435.11H400.17V437.11H398.17ZM400.35 437.29H402.35V439.29H400.35ZM402.53 439.47H404.53V440.60H402.53ZM411.25 335.20H413.25V336.89H411.25ZM404.71 345.78H406.71V347.78H404.71ZM406.89 347.96H408.89V349.96H406.89ZM409.07 350.14H411.07V352.14H409.07ZM411.25 352.32H413.25V354.32H411.25ZM404.71 363.21H406.71V365.21H404.71ZM406.89 365.39H408.89V367.39H406.89ZM409.07 367.57H411.07V369.57H409.07ZM411.25 369.75H413.25V371.75H411.25ZM404.71 380.64H406.71V382.64H404.71ZM406.89 382.82H408.89V384.82H406.89ZM409.07 385.00H411.07V387.00H409.07ZM411.25 387.18H413.25V389.18H411.25ZM404.71 398.07H406.71V400.07H404.71ZM406.89 400.25H408.89V402.25H406.89ZM409.07 402.43H411.07V404.43H409.07ZM411.25 404.61H413.25V406.61H411.25ZM404.71 415.50H406.71V417.50H404.71ZM406.89 417.68H408.89V419.68H406.89ZM409.07 419.86H411.07V421.86H409.07ZM411.25 422.04H413.25V424.04H411.25ZM404.71 432.93H406.71V434.93H404.71ZM406.89 435.11H408.89V437.11H406.89ZM409.07 437.29H411.07V439.29H409.07ZM411.25 439.47H413.25V440.60H411.25ZM413.42 345.78H415.42V347.78H413.42ZM415.60 347.96H417.60V349.96H415.60ZM417.78 350.14H418.47V352.14H417.78ZM413.42 363.21H415.42V365.21H413.42ZM415.60 365.39H417.60V367.39H415.60ZM417.78 367.57H418.47V369.57H417.78ZM413.42 380.64H415.42V382.64H413.42ZM415.60 382.82H417.60V384.82H415.60ZM417.78 385.00H418.47V387.00H417.78ZM413.42 398.07H415.42V400.07H413.42ZM415.60 400.25H417.60V402.25H415.60ZM417.78 402.43H418.47V404.43H417.78ZM413.42 415.50H415.42V417.50H413.42ZM415.60 417.68H417.60V419.68H415.60ZM417.78 419.86H418.47V421.86H417.78ZM413.42 432.93H415.42V434.93H413.42ZM415.60 435.11H417.60V437.11H415.60ZM417.78 437.29H418.47V439.29H417.78Z" fill="#000"/>
<rect x="395.82" y="336.55" width="21.30" height="104.05" fill="none" stroke="#000" stroke-width="2.7"/>
<rect x="431.75" y="385.00" width="24.00" height="55.60" fill="#fff"/>
<path d="M431.75 385.13H439.69V393.85H431.75ZM431.75 402.56H439.69V411.28H431.75ZM431.75 420.00H439.69V428.71H431.75ZM431.75 437.43H439.69V440.60H431.75ZM439.69 385.00H448.40V385.13H439.69ZM439.69 393.85H448.40V402.56H439.69ZM439.69 411.28H448.40V420.00H439.69ZM439.69 428.71H448.40V437.43H439.69ZM448.40 385.13H455.75V393.85H448.40ZM448.40 402.56H455.75V411.28H448.40ZM448.40 420.00H455.75V428.71H448.40ZM448.40 437.43H455.75V440.60H448.40Z" fill="#000"/>
<rect x="433.10" y="386.35" width="21.30" height="54.25" fill="none" stroke="#000" stroke-width="2.7"/>
<rect x="457.55" y="362.30" width="24.00" height="78.30" fill="#000"/>
<path d="M463.90 367.68H466.10V369.88H463.90ZM463.90 376.40H466.10V378.60H463.90ZM463.90 385.11H466.10V387.31H463.90ZM463.90 393.83H466.10V396.03H463.90ZM463.90 402.54H466.10V404.75H463.90ZM463.90 411.26H466.10V413.46H463.90ZM463.90 419.97H466.10V422.18H463.90ZM463.90 428.69H466.10V430.89H463.90ZM463.90 437.40H466.10V439.61H463.90ZM481.33 367.68H481.55V369.88H481.33ZM481.33 376.40H481.55V378.60H481.33ZM481.33 385.11H481.55V387.31H481.33ZM481.33 393.83H481.55V396.03H481.33ZM481.33 402.54H481.55V404.75H481.33ZM481.33 411.26H481.55V413.46H481.33ZM481.33 419.97H481.55V422.18H481.33ZM481.33 428.69H481.55V430.89H481.33ZM481.33 437.40H481.55V439.61H481.33ZM472.62 363.33H474.82V365.53H472.62ZM472.62 372.04H474.82V374.24H472.62ZM472.62 380.76H474.82V382.96H472.62ZM472.62 389.47H474.82V391.67H472.62ZM472.62 398.19H474.82V400.39H472.62ZM472.62 406.90H474.82V409.10H472.62ZM472.62 415.62H474.82V417.82H472.62ZM472.62 424.33H474.82V426.53H472.62ZM472.62 433.05H474.82V435.25H472.62Z" fill="#fff"/>
<rect x="458.90" y="363.65" width="21.30" height="76.95" fill="none" stroke="#000" stroke-width="2.7"/>
<rect x="483.35" y="389.50" width="24.00" height="51.10" fill="#fff"/>
<path d="M483.35 393.91H507.35V396.08H483.35ZM483.35 402.62H507.35V404.80H483.35ZM483.35 411.34H507.35V413.51H483.35ZM483.35 420.05H507.35V422.23H483.35ZM483.35 428.77H507.35V430.94H483.35ZM483.35 437.48H507.35V439.66H483.35Z" fill="#000"/>
<rect x="484.70" y="390.85" width="21.30" height="49.75" fill="none" stroke="#000" stroke-width="2.7"/>
<rect x="509.15" y="358.00" width="24.00" height="82.60" fill="#fff"/>
<path d="M509.28 363.21H511.28V365.21H509.28ZM511.46 365.39H513.46V367.39H511.46ZM513.64 367.57H515.64V369.57H513.64ZM515.82 369.75H517.82V371.75H515.82ZM509.28 380.64H511.28V382.64H509.28ZM511.46 382.82H513.46V384.82H511.46ZM513.64 385.00H515.64V387.00H513.64ZM515.82 387.18H517.82V389.18H515.82ZM509.28 398.07H511.28V400.07H509.28ZM511.46 400.25H513.46V402.25H511.46ZM513.64 402.43H515.64V404.43H513.64ZM515.82 404.61H517.82V406.61H515.82ZM509.28 415.50H511.28V417.50H509.28ZM511.46 417.68H513.46V419.68H511.46ZM513.64 419.86H515.64V421.86H513.64ZM515.82 422.04H517.82V424.04H515.82ZM509.28 432.93H511.28V434.93H509.28ZM511.46 435.11H513.46V437.11H511.46ZM513.64 437.29H515.64V439.29H513.64ZM515.82 439.47H517.82V440.60H515.82ZM518.00 363.21H520.00V365.21H518.00ZM520.18 365.39H522.18V367.39H520.18ZM522.36 367.57H524.36V369.57H522.36ZM524.54 369.75H526.54V371.75H524.54ZM518.00 380.64H520.00V382.64H518.00ZM520.18 382.82H522.18V384.82H520.18ZM522.36 385.00H524.36V387.00H522.36ZM524.54 387.18H526.54V389.18H524.54ZM518.00 398.07H520.00V400.07H518.00ZM520.18 400.25H522.18V402.25H520.18ZM522.36 402.43H524.36V404.43H522.36ZM524.54 404.61H526.54V406.61H524.54ZM518.00 415.50H520.00V417.50H518.00ZM520.18 417.68H522.18V419.68H520.18ZM522.36 419.86H524.36V421.86H522.36ZM524.54 422.04H526.54V424.04H524.54ZM518.00 432.93H520.00V434.93H518.00ZM520.18 435.11H522.18V437.11H520.18ZM522.36 437.29H524.36V439.29H522.36ZM524.54 439.47H526.54V440.60H524.54ZM526.72 363.21H528.72V365.21H526.72ZM528.89 365.39H530.89V367.39H528.89ZM531.08 367.57H533.08V369.57H531.08ZM526.72 380.64H528.72V382.64H526.72ZM528.89 382.82H530.89V384.82H528.89ZM531.08 385.00H533.08V387.00H531.08ZM526.72 398.07H528.72V400.07H526.72ZM528.89 400.25H530.89V402.25H528.89ZM531.08 402.43H533.08V404.43H531.08ZM526.72 415.50H528.72V417.50H526.72ZM528.89 417.68H530.89V419.68H528.89ZM531.08 419.86H533.08V421.86H531.08ZM526.72 432.93H528.72V434.93H526.72ZM528.89 435.11H530.89V437.11H528.89ZM531.08 437.29H533.08V439.29H531.08Z" fill="#000"/>
<rect x="510.50" y="359.35" width="21.30" height="81.25" fill="none" stroke="#000" stroke-width="2.7"/>
<path d="M92.55 114.60H106.15M92.55 126.40H106.15" stroke="#000" stroke-width="0.8" fill="none"/>
<path d="M99.35 114.60V126.40" stroke="#000" stroke-width="0.7" fill="none"/>
<path d="M118.35 44.40H131.95M118.35 56.20H131.95" stroke="#000" stroke-width="0.8" fill="none"/>
<path d="M125.15 44.40V56.20" stroke="#000" stroke-width="0.7" fill="none"/>
<path d="M144.15 183.40H157.75M144.15 195.00H157.75" stroke="#000" stroke-width="0.8" fill="none"/>
<path d="M150.95 183.40V195.00" stroke="#000" stroke-width="0.7" fill="none"/>
<path d="M169.95 47.90H183.55M169.95 60.10H183.55" stroke="#000" stroke-width="0.8" fill="none"/>
<path d="M176.75 47.90V60.10" stroke="#000" stroke-width="0.7" fill="none"/>
<path d="M207.43 294.50H221.03M207.43 305.90H221.03" stroke="#000" stroke-width="0.8" fill="none"/>
<path d="M214.23 294.50V305.90" stroke="#000" stroke-width="0.7" fill="none"/>
<path d="M233.23 232.70H246.83M233.23 243.90H246.83" stroke="#000" stroke-width="0.8" fill="none"/>
<path d="M240.03 232.70V243.90" stroke="#000" stroke-width="0.7" fill="none"/>
<path d="M259.03 315.10H272.63M259.03 326.90H272.63" stroke="#000" stroke-width="0.8" fill="none"/>
<path d="M265.83 315.10V326.90" stroke="#000" stroke-width="0.7" fill="none"/>
<path d="M284.82 229.80H298.43M284.82 241.80H298.43" stroke="#000" stroke-width="0.8" fill="none"/>
<path d="M291.62 229.80V241.80" stroke="#000" stroke-width="0.7" fill="none"/>
<path d="M322.27 370.40H335.87M322.27 382.80H335.87" stroke="#000" stroke-width="0.8" fill="none"/>
<path d="M329.07 370.40V382.80" stroke="#000" stroke-width="0.7" fill="none"/>
<path d="M348.07 343.40H361.67M348.07 355.00H361.67" stroke="#000" stroke-width="0.8" fill="none"/>
<path d="M354.87 343.40V355.00" stroke="#000" stroke-width="0.7" fill="none"/>
<path d="M373.87 384.20H387.47M373.87 396.40H387.47" stroke="#000" stroke-width="0.8" fill="none"/>
<path d="M380.67 384.20V396.40" stroke="#000" stroke-width="0.7" fill="none"/>
<path d="M399.67 329.90H413.27M399.67 342.50H413.27" stroke="#000" stroke-width="0.8" fill="none"/>
<path d="M406.47 329.90V342.50" stroke="#000" stroke-width="0.7" fill="none"/>
<path d="M436.95 380.30H450.55M436.95 391.70H450.55" stroke="#000" stroke-width="0.8" fill="none"/>
<path d="M443.75 380.30V391.70" stroke="#000" stroke-width="0.7" fill="none"/>
<path d="M462.75 357.20H476.35M462.75 369.40H476.35" stroke="#000" stroke-width="0.8" fill="none"/>
<path d="M469.55 357.20V369.40" stroke="#000" stroke-width="0.7" fill="none"/>
<path d="M488.55 384.30H502.15M488.55 396.70H502.15" stroke="#000" stroke-width="0.8" fill="none"/>
<path d="M495.35 384.30V396.70" stroke="#000" stroke-width="0.7" fill="none"/>
<path d="M514.35 353.00H527.95M514.35 365.00H527.95" stroke="#000" stroke-width="0.8" fill="none"/>
<path d="M521.15 353.00V365.00" stroke="#000" stroke-width="0.7" fill="none"/>
<path d="M80.6 16.6V447.7M539.7 16.4V447.7" stroke="#000" stroke-width="2.8" fill="none"/>
<path d="M73.6 17.5H541.1" stroke="#000" stroke-width="2.5" fill="none"/>
<path d="M73.6 440.6H541.1" stroke="#000" stroke-width="2.2" fill="none"/>
<path d="M73.6 380.16H80.6M73.6 319.71H80.6M73.6 259.27H80.6M73.6 198.83H80.6M73.6 138.39H80.6M73.6 77.94H80.6" stroke="#000" stroke-width="2.6" fill="none"/>
<path d="M195.5 440.6V447.7M310.35 440.6V447.7M425.2 440.6V447.7" stroke="#000" stroke-width="2.6" fill="none"/>
<text transform="translate(54.6 448.50) scale(0.95 1.07)" font-size="23.5" text-anchor="end">0</text>
<text transform="translate(54.6 388.06) scale(0.95 1.07)" font-size="23.5" text-anchor="end">10</text>
<text transform="translate(54.6 327.61) scale(0.95 1.07)" font-size="23.5" text-anchor="end">20</text>
<text transform="translate(54.6 267.17) scale(0.95 1.07)" font-size="23.5" text-anchor="end">30</text>
<text transform="translate(54.6 206.73) scale(0.95 1.07)" font-size="23.5" text-anchor="end">40</text>
<text transform="translate(54.6 146.29) scale(0.95 1.07)" font-size="23.5" text-anchor="end">50</text>
<text transform="translate(54.6 85.84) scale(0.95 1.07)" font-size="23.5" text-anchor="end">60</text>
<text transform="translate(54.6 25.40) scale(0.95 1.07)" font-size="23.5" text-anchor="end">70</text>
<text x="138.55" y="475.4" font-size="23.5" text-anchor="middle">10days</text>
<text x="253.43" y="475.4" font-size="23.5" text-anchor="middle">20days</text>
<text x="368.27" y="475.4" font-size="23.5" text-anchor="middle">30days</text>
<text x="482.95" y="475.4" font-size="23.5" text-anchor="middle">maturity</text>
<text x="323.2" y="510" font-size="23.5" text-anchor="middle">Days after anthesis</text>
<text transform="translate(22.3 352.5) rotate(-90)" font-size="23.5">sucrose content</text>
<text transform="translate(22.3 202.5) rotate(-90)" font-size="20" style="font-family:'Noto Serif CJK SC',serif">（</text>
<text transform="translate(22.3 179.2) rotate(-90)" font-size="23.5">mg/g</text>
<text transform="translate(22.3 130) rotate(-90)" font-size="20" style="font-family:'Noto Serif CJK SC',serif">）</text>
<rect x="294.8" y="35.6" width="14.1" height="13.7" fill="#000"/><rect x="300.3" y="38.0" width="5.8" height="6.7" fill="#fff"/><rect x="297.0" y="45.5" width="2.9" height="1.5" fill="#fff"/>
<text transform="translate(311.9 49.5) scale(1 1.07)" font-size="23.5">S1</text>
<rect x="352.75" y="35.6" width="14.1" height="13.7" fill="#000"/><rect x="359.3" y="38.0" width="2.5" height="1.3" fill="#fff"/><rect x="359.3" y="45.4" width="2.4" height="1.7" fill="#fff"/>
<text transform="translate(370.0 49.5) scale(1 1.07)" font-size="23.5">S2</text>
<rect x="410.6" y="35.75" width="14.1" height="13.4" fill="#000"/><rect x="413.0" y="38.7" width="9.1" height="6.6" fill="#fff"/>
<text transform="translate(427.3 49.5) scale(1 1.07)" font-size="23.5">S3</text>
<rect x="468.4" y="35.6" width="13.8" height="13.6" fill="#000"/><rect x="471.0" y="38.1" width="9.1" height="9.0" fill="#fff"/><rect x="472.8" y="39.0" width="2.1" height="1.8" fill="#000"/>
<text transform="translate(484.9 49.5) scale(1 1.07)" font-size="23.5">CK</text>
</svg></body></html>
